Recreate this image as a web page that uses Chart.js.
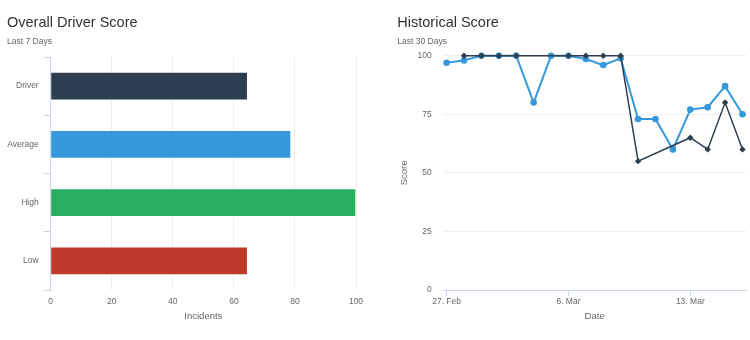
<!DOCTYPE html>
<html>
<head>
<meta charset="utf-8">
<script src="https://cdn.jsdelivr.net/npm/chart.js@4.4.1/dist/chart.umd.min.js"></script>
<style>
  body { margin: 0; background: #fff; width: 750px; height: 340px; overflow: hidden; font-family: "Liberation Sans", Arial, sans-serif; }
  .panel { position: absolute; top: 0; width: 375px; height: 340px; }
  .panel canvas { position: absolute; left: 0; top: 0; }
  .title { position: absolute; font-size: 14.5px; color: #333; line-height: 1; white-space: nowrap; }
  .sub { position: absolute; font-size: 8.5px; color: #666; line-height: 1; white-space: nowrap; }
</style>
</head>
<body>
<div class="panel" style="left:0">
  <canvas id="barChart" width="375" height="340"></canvas>
  <div class="title" style="left:7px;top:15.4px">Overall Driver Score</div>
  <div class="sub" style="left:7px;top:36.5px">Last 7 Days</div>
</div>
<div class="panel" style="left:375px">
  <canvas id="lineChart" width="375" height="340"></canvas>
  <div class="title" style="left:22.3px;top:15.4px">Historical Score</div>
  <div class="sub" style="left:22.3px;top:36.5px">Last 30 Days</div>
</div>
<script>
// bar chart data
const barLabels = ['Driver', 'Average', 'High', 'Low'];
const barValues = [64.5, 78.7, 100, 64.5];
const barColors = ['#2c3e50', '#3498db', '#27ae60', '#c0392b'];

// history data, one entry per day
const dates = ['27. Feb', '28. Feb', '1. Mar', '2. Mar', '3. Mar', '4. Mar', '5. Mar', '6. Mar', '7. Mar',
  '8. Mar', '9. Mar', '10. Mar', '11. Mar', '12. Mar', '13. Mar', '14. Mar', '15. Mar', '16. Mar'];
const driverScores = [null, 100, 100, 100, 100, null, null, 100, 100, 100, 100, 55, null, null, 65, 60, 80, 60];
const averageScores = [97, 98, 100, 100, 100, 80, 100, 100, 98.6, 96, 98.9, 73, 73, 60, 77, 78, 87, 75];
const dateTicks = [0, 7, 14];

Chart.defaults.font.family = '"Liberation Sans", Arial, sans-serif';
Chart.defaults.color = '#666';

const tickFont = { size: 8.5 };
const titleFont = { size: 9.5 };
const gridColor = '#eeeeee';

new Chart(document.getElementById('barChart'), {
  type: 'bar',
  data: {
    labels: barLabels,
    datasets: [{
      data: barValues,
      backgroundColor: barColors,
      borderColor: 'rgba(255,255,255,0.5)',
      borderWidth: 1,
      barThickness: 28
    }]
  },
  options: {
    indexAxis: 'y',
    responsive: false,
    animation: false,
    layout: { padding: { top: 57, right: 19, left: 0, bottom: 0 } },
    plugins: { legend: { display: false }, tooltip: { enabled: false } },
    scales: {
      x: {
        min: 0,
        max: 100,
        ticks: { stepSize: 20, font: tickFont, padding: 7 },
        grid: { color: c => c.tick.value === 0 ? 'rgba(0,0,0,0)' : gridColor, drawTicks: false },
        border: { display: false },
        title: { display: true, text: 'Incidents', font: titleFont, padding: { top: 0, bottom: 18 } },
        afterFit: s => { s.height = 50; }
      },
      y: {
        ticks: { font: tickFont, padding: 5 },
        grid: { offset: true, drawOnChartArea: false, tickLength: 7, color: '#ccd6eb' },
        border: { display: true, color: '#ccd6eb' },
        afterFit: s => { s.width = 50.7; }
      }
    }
  }
});

const toPoints = arr => arr.map((v, i) => ({ x: i, y: v }));

new Chart(document.getElementById('lineChart'), {
  type: 'line',
  data: {
    datasets: [{
      label: 'Driver',
      data: toPoints(driverScores),
      borderColor: '#2c3e50',
      backgroundColor: '#2c3e50',
      borderWidth: 1.5,
      pointStyle: 'rectRot',
      pointRadius: 3.2,
      pointBorderWidth: 0,
      spanGaps: true,
      clip: false
    }, {
      label: 'Average',
      data: toPoints(averageScores),
      borderColor: '#3498db',
      backgroundColor: '#3498db',
      borderWidth: 2,
      pointRadius: 3.3,
      pointBorderWidth: 0,
      clip: false
    }]
  },
  options: {
    responsive: false,
    animation: false,
    layout: { padding: { top: 55.7, right: 3.3, left: 0, bottom: 0 } },
    plugins: { legend: { display: false }, tooltip: { enabled: false } },
    scales: {
      x: {
        type: 'linear',
        min: -0.19,
        max: 17.2,
        afterBuildTicks: s => { s.ticks = dateTicks.map(v => ({ value: v })); },
        ticks: { callback: v => dates[v], font: tickFont, padding: 1, maxRotation: 0, autoSkip: false },
        grid: { drawOnChartArea: false, tickLength: 6, color: '#ccd6eb' },
        border: { display: true, color: '#ccd6eb' },
        title: { display: true, text: 'Date', font: titleFont, padding: { top: 0, bottom: 18 } },
        afterFit: s => { s.height = 50; }
      },
      y: {
        min: 0,
        max: 100,
        ticks: { stepSize: 25, font: tickFont, padding: 11.5 },
        grid: { color: c => c.tick.value === 0 ? 'rgba(0,0,0,0)' : gridColor, drawTicks: false },
        border: { display: false },
        title: { display: true, text: 'Score', font: titleFont, padding: { top: 23.3, bottom: 0 } },
        afterFit: s => { s.width = 68.3; }
      }
    }
  }
});
</script>
</body>
</html>
